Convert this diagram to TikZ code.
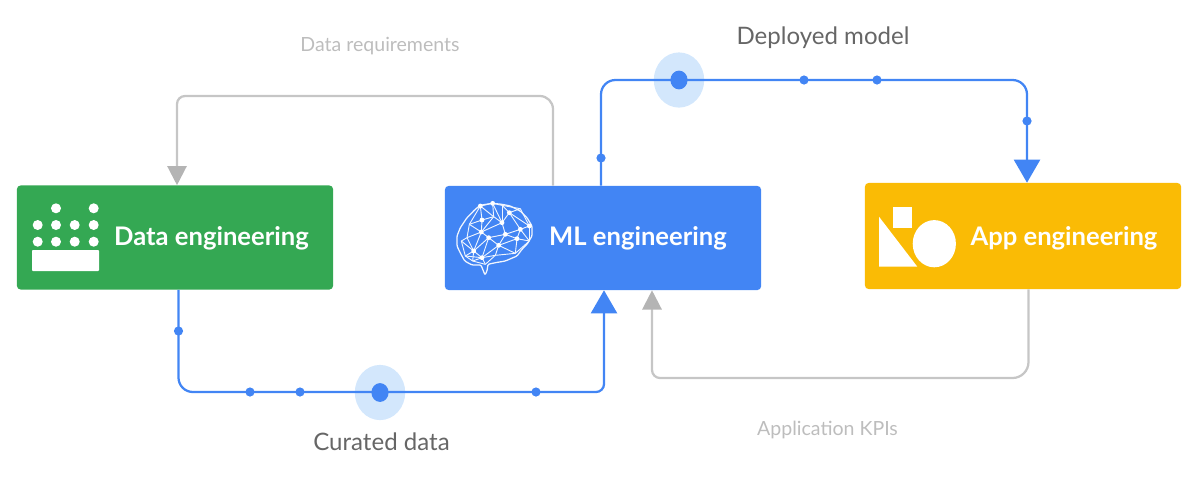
\documentclass[tikz,border=0pt]{standalone}
\usepackage{fontspec}
\setmainfont{Lato}
\usepackage{tikz}
\usetikzlibrary{shapes.geometric, arrows.meta, positioning, calc}

\definecolor{dataGreen}{HTML}{34A853}
\definecolor{mlBlue}{HTML}{4285F4}
\definecolor{appYellow}{HTML}{FABB05}
\definecolor{lineBlue}{HTML}{4285F4}
\definecolor{haloBlue}{HTML}{CBE3FC}
\definecolor{lineGrey}{HTML}{C6C6C6}
\definecolor{tipGrey}{HTML}{B4B4B4}
\definecolor{labelDark}{HTML}{666666}
\definecolor{labelLight}{HTML}{BDBDBD}

\begin{document}
\begin{tikzpicture}[
    x=0.025cm, y=-0.025cm,
    stage/.style={rectangle, rounded corners=0.09cm, minimum width=7.9cm, inner sep=0pt},
    stagetext/.style={font=\fontsize{18.2}{20}\selectfont\bfseries, text=white, inner sep=0pt},
    flowlabel/.style={inner sep=0pt},
    lightlabel/.style={flowlabel, font=\fontsize{13.9}{16}\selectfont, text=labelLight},
    darklabel/.style={flowlabel, font=\fontsize{17.1}{19}\selectfont, text=labelDark},
    blueflow/.style={draw=lineBlue, line width=1.6pt, -{Triangle[length=0.575cm, width=0.65cm]}},
    greyflow/.style={draw=lineGrey, line width=1.6pt, -{Triangle[color=tipGrey, length=0.48cm, width=0.48cm]}},
    smalldot/.style={circle, fill=lineBlue, minimum size=0.23cm, inner sep=0pt},
    bigdot/.style={ellipse, fill=lineBlue, minimum width=0.43cm, minimum height=0.47cm, inner sep=0pt},
    halo/.style={ellipse, fill=haloBlue, fill opacity=0.85, minimum width=1.26cm, minimum height=1.38cm, inner sep=0pt},
    iconpart/.style={fill=white, draw=none},
    brainline/.style={draw=white!92!mlBlue, line width=0.65pt}
]
    \useasboundingbox (0,0) rectangle (1200,482);

    % Stages
    \node[stage, fill=dataGreen, minimum height=2.6cm] (dataeng) at (175,237.5) {};
    \node[stage, fill=mlBlue, minimum height=2.6cm] (mleng) at (603,238) {};
    \node[stage, fill=appYellow, minimum height=2.65cm] (appeng) at (1023,236) {};

    \node[stagetext] (datatext) at (211.5,238) {Data engineering};
    \node[stagetext] (mltext) at (638,238) {ML engineering};
    \node[stagetext] (apptext) at (1064,238) {App engineering};

    % Bends of the connectors
    \coordinate (reqright) at (553,96);
    \coordinate (reqleft) at (177,96);
    \coordinate (curleft) at (178.5,392);
    \coordinate (curright) at (604,392);
    \coordinate (depleft) at (601,80);
    \coordinate (depright) at (1027,80);
    \coordinate (kpiright) at (1028.5,378);
    \coordinate (kpileft) at (652,378);

    % Grey feedback paths
    \draw[greyflow] (reqright |- mleng.north) [rounded corners=0.33cm] -- (reqright) [rounded corners=0.2cm] -- (reqleft) [sharp corners] -- (reqleft |- dataeng.north);
    \draw[greyflow] (kpiright |- appeng.south) [rounded corners=0.4cm] -- (kpiright) [rounded corners=0.2cm] -- (kpileft) [sharp corners] -- (kpileft |- mleng.south);

    % Halos sit under the blue paths
    \node[halo] (curhalo) at (380,392.5) {};
    \node[halo] (dephalo) at (679,80) {};

    % Blue main paths
    \draw[blueflow] (curleft |- dataeng.south) [rounded corners=0.36cm] -- (curleft) [rounded corners=0.2cm] -- (curright) [sharp corners] -- (curright |- mleng.south);
    \draw[blueflow] (depleft |- mleng.north) [rounded corners=0.36cm] -- (depleft) [rounded corners=0.36cm] -- (depright) [sharp corners] -- (depright |- appeng.north);

    % Dots on the paths
    \node[smalldot] (cur1) at (178.5,331) {};
    \node[smalldot] (cur2) at (250,392) {};
    \node[smalldot] (cur3) at (300,392) {};
    \node[bigdot] (cur4) at (380,392.5) {};
    \node[smalldot] (cur5) at (536,392) {};
    \node[smalldot] (dep1) at (601,158) {};
    \node[bigdot] (dep2) at (679,80) {};
    \node[smalldot] (dep3) at (804,80) {};
    \node[smalldot] (dep4) at (877,80) {};
    \node[smalldot] (dep5) at (1027,121) {};

    % Labels
    \node[lightlabel] (reqlabel) at (380,46) {Data requirements};
    \node[darklabel] (deplabel) at (823,38) {Deployed model};
    \node[darklabel] (curlabel) at (381.5,442) {Curated data};
    \node[lightlabel] (kpilabel) at (827.5,430) {Application KPIs};

    % Keyboard icon
    \foreach \x in {37.7,56,74.7,93.7}
        \foreach \y in {225,241.7}
            \fill[iconpart] (\x,\y) circle (0.125cm);
    \fill[iconpart] (56,208.3) circle (0.125cm);
    \fill[iconpart] (93.7,208.3) circle (0.125cm);
    \fill[iconpart, rounded corners=0.02cm] (32,250) rectangle (99,271);

    % Shapes icon
    \fill[iconpart] (879,216.7) -- (879,266.7) -- (917.3,266.7) -- cycle;
    \fill[iconpart] (893.3,207.3) rectangle (912,227.7);
    \fill[iconpart] (934.3,243.7) ellipse (0.54cm and 0.59cm);

    % Brain icon
    \foreach \n/\px/\py in {1/85/30, 2/122/22, 3/172/50, 4/205/38, 5/90/72, 6/125/62, 7/205/100, 8/88/108,
        9/150/80, 10/140/148, 11/110/125, 12/160/115, 13/65/165, 14/195/128, 15/45/125, 16/90/185,
        17/52/85, 18/28/135, 19/130/178, 20/190/172, 21/232/90, 22/232/135, 23/40/180, 24/150/28,
        25/62/195, 26/100/205}
        \coordinate (b\n) at (452+\px/3,196+\py/3);
    \draw[brainline, line width=0.9pt, rounded corners=0.03cm] (485,275) -- (481,265) -- (472,265) -- (464.7,261) -- (460.3,253) -- (457,246) -- (457,236) -- (460.3,227.7) -- (467,217.7) -- (475.3,209.3) -- (480.3,205.3) -- (492,203.3) -- (502,204.3) -- (510.3,206) -- (520.3,211) -- (527,217.7) -- (532,226) -- (532,236) -- (527,244.3) -- (522,249.3) -- (517,256) -- (505.3,261) -- (495.3,262.7) -- (488,264.3) -- (487,271) -- cycle;
    \foreach \p/\q in {1/2, 2/24, 24/3, 24/4, 3/4, 1/5, 1/6, 2/6, 2/9, 24/9, 3/9, 3/7, 4/21, 3/21, 7/21, 7/22, 21/22,
        5/6, 6/9, 5/8, 6/8, 5/17, 1/17, 17/8, 17/15, 15/8, 15/18, 8/11, 8/13, 15/13, 18/13, 18/23, 23/13,
        11/10, 11/12, 9/12, 12/7, 12/14, 7/14, 14/22, 14/20, 22/20, 12/10, 10/14, 10/20, 10/19, 19/20,
        11/13, 13/16, 16/19, 11/16, 16/10, 23/16, 9/8, 23/25, 25/16, 25/26, 16/26, 19/26, 13/25}
        \draw[brainline] (b\p) -- (b\q);
    \foreach \n in {1,2,3,5,7,8,10,11,13,14,16,21,9,12}
        \fill[iconpart] (b\n) circle (0.06cm);
\end{tikzpicture}
\end{document}
